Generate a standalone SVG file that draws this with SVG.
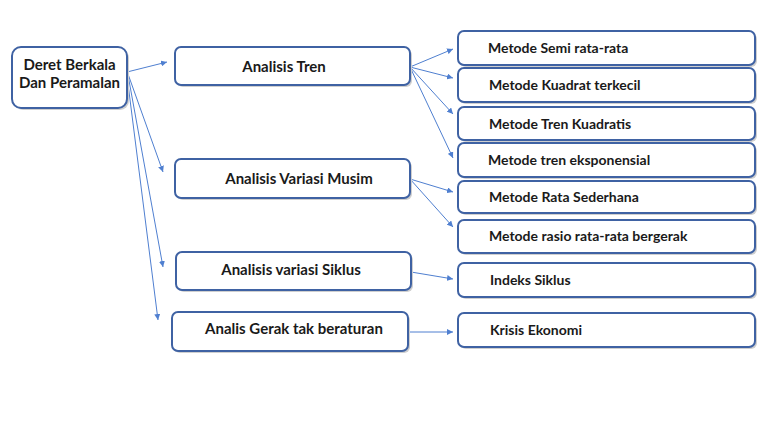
<svg xmlns="http://www.w3.org/2000/svg" width="768" height="433" viewBox="0 0 768 433">
<defs>
<style>
.box{fill:#fff;stroke:#3F62A3;stroke-width:2}
.sh{fill:#cfcfcf}
.t{font-family:Lato,"Noto Sans",sans-serif;font-weight:700;font-size:14px;fill:#1a1a1a}
.r{font-size:15px}
.m{font-size:15px}
.c{fill:none;stroke:#4F7FD0;stroke-width:1}
</style>
<marker id="a" viewBox="0 0 6 6" refX="6" refY="3" markerWidth="6" markerHeight="6" orient="auto" markerUnits="userSpaceOnUse">
<path d="M0,0 L6,3 L0,6 z" fill="#4F7FD0"/>
</marker>
</defs>
<rect width="768" height="433" fill="#fff"/>
<g id="connectors">
<path class="c" marker-end="url(#a)" d="M127,72 L167,62"/>
<path class="c" marker-end="url(#a)" d="M128,74 L163,172"/>
<path class="c" marker-end="url(#a)" d="M128,75 L163,267"/>
<path class="c" marker-end="url(#a)" d="M127,76 L158,320"/>
<path class="c" marker-end="url(#a)" d="M410,67 L453,49"/>
<path class="c" marker-end="url(#a)" d="M410,67 L453,78"/>
<path class="c" marker-end="url(#a)" d="M410,67 L453,114"/>
<path class="c" marker-end="url(#a)" d="M410,67 L453,158"/>
<path class="c" marker-end="url(#a)" d="M410,179 L453,192"/>
<path class="c" marker-end="url(#a)" d="M410,179 L453,227"/>
<path class="c" marker-end="url(#a)" d="M411,272 L453,279"/>
<path class="c" marker-end="url(#a)" d="M408,332 L453,332"/>
</g>
<g id="root">
<rect class="sh" x="14" y="49" width="115" height="61" rx="9"/>
<rect class="box" x="12" y="47" width="115" height="61" rx="9"/>
<text class="t r" x="69.5" y="70" text-anchor="middle">Deret Berkala</text>
<text class="t r" x="69.5" y="88" text-anchor="middle">Dan Peramalan</text>
</g>
<g id="tren">
<rect class="sh" x="177" y="49" width="235" height="38" rx="6"/>
<rect class="box" x="175" y="47" width="235" height="38" rx="6"/>
<text class="t m" x="284" y="72" text-anchor="middle">Analisis Tren</text>
</g>
<g id="musim">
<rect class="sh" x="177" y="161" width="235" height="39" rx="6"/>
<rect class="box" x="175" y="159" width="235" height="39" rx="6"/>
<text class="t m" x="299" y="184" text-anchor="middle">Analisis Variasi Musim</text>
</g>
<g id="siklus">
<rect class="sh" x="178" y="254" width="235" height="38" rx="6"/>
<rect class="box" x="176" y="252" width="235" height="38" rx="6"/>
<text class="t m" x="291" y="275" text-anchor="middle">Analisis variasi Siklus</text>
</g>
<g id="gerak">
<rect class="sh" x="174" y="314" width="236" height="39" rx="6"/>
<rect class="box" x="172" y="312" width="236" height="39" rx="6"/>
<text class="t m" x="294" y="334" text-anchor="middle">Analis Gerak tak beraturan</text>
</g>
<g id="m1">
<rect class="sh" x="460" y="33" width="297" height="34" rx="6"/>
<rect class="box" x="458" y="31" width="297" height="34" rx="6"/>
<text class="t" x="488" y="53">Metode Semi rata-rata</text>
</g>
<g id="m2">
<rect class="sh" x="460" y="70" width="297" height="34" rx="6"/>
<rect class="box" x="458" y="68" width="297" height="34" rx="6"/>
<text class="t" x="489" y="90">Metode Kuadrat terkecil</text>
</g>
<g id="m3">
<rect class="sh" x="460" y="109" width="297" height="33" rx="6"/>
<rect class="box" x="458" y="107" width="297" height="33" rx="6"/>
<text class="t" x="489" y="129">Metode Tren Kuadratis</text>
</g>
<g id="m4">
<rect class="sh" x="460" y="145" width="297" height="34" rx="6"/>
<rect class="box" x="458" y="143" width="297" height="34" rx="6"/>
<text class="t" x="488" y="165">Metode tren eksponensial</text>
</g>
<g id="m5">
<rect class="sh" x="460" y="183" width="297" height="32" rx="6"/>
<rect class="box" x="458" y="181" width="297" height="32" rx="6"/>
<text class="t" x="489" y="202">Metode Rata Sederhana</text>
</g>
<g id="m6">
<rect class="sh" x="460" y="222" width="297" height="33" rx="6"/>
<rect class="box" x="458" y="220" width="297" height="33" rx="6"/>
<text class="t" x="489" y="241">Metode rasio rata-rata bergerak</text>
</g>
<g id="m7">
<rect class="sh" x="460" y="265" width="297" height="34" rx="6"/>
<rect class="box" x="458" y="263" width="297" height="34" rx="6"/>
<text class="t" x="490" y="285">Indeks Siklus</text>
</g>
<g id="m8">
<rect class="sh" x="460" y="315" width="297" height="34" rx="6"/>
<rect class="box" x="458" y="313" width="297" height="34" rx="6"/>
<text class="t" x="490" y="335">Krisis Ekonomi</text>
</g>
</svg>
